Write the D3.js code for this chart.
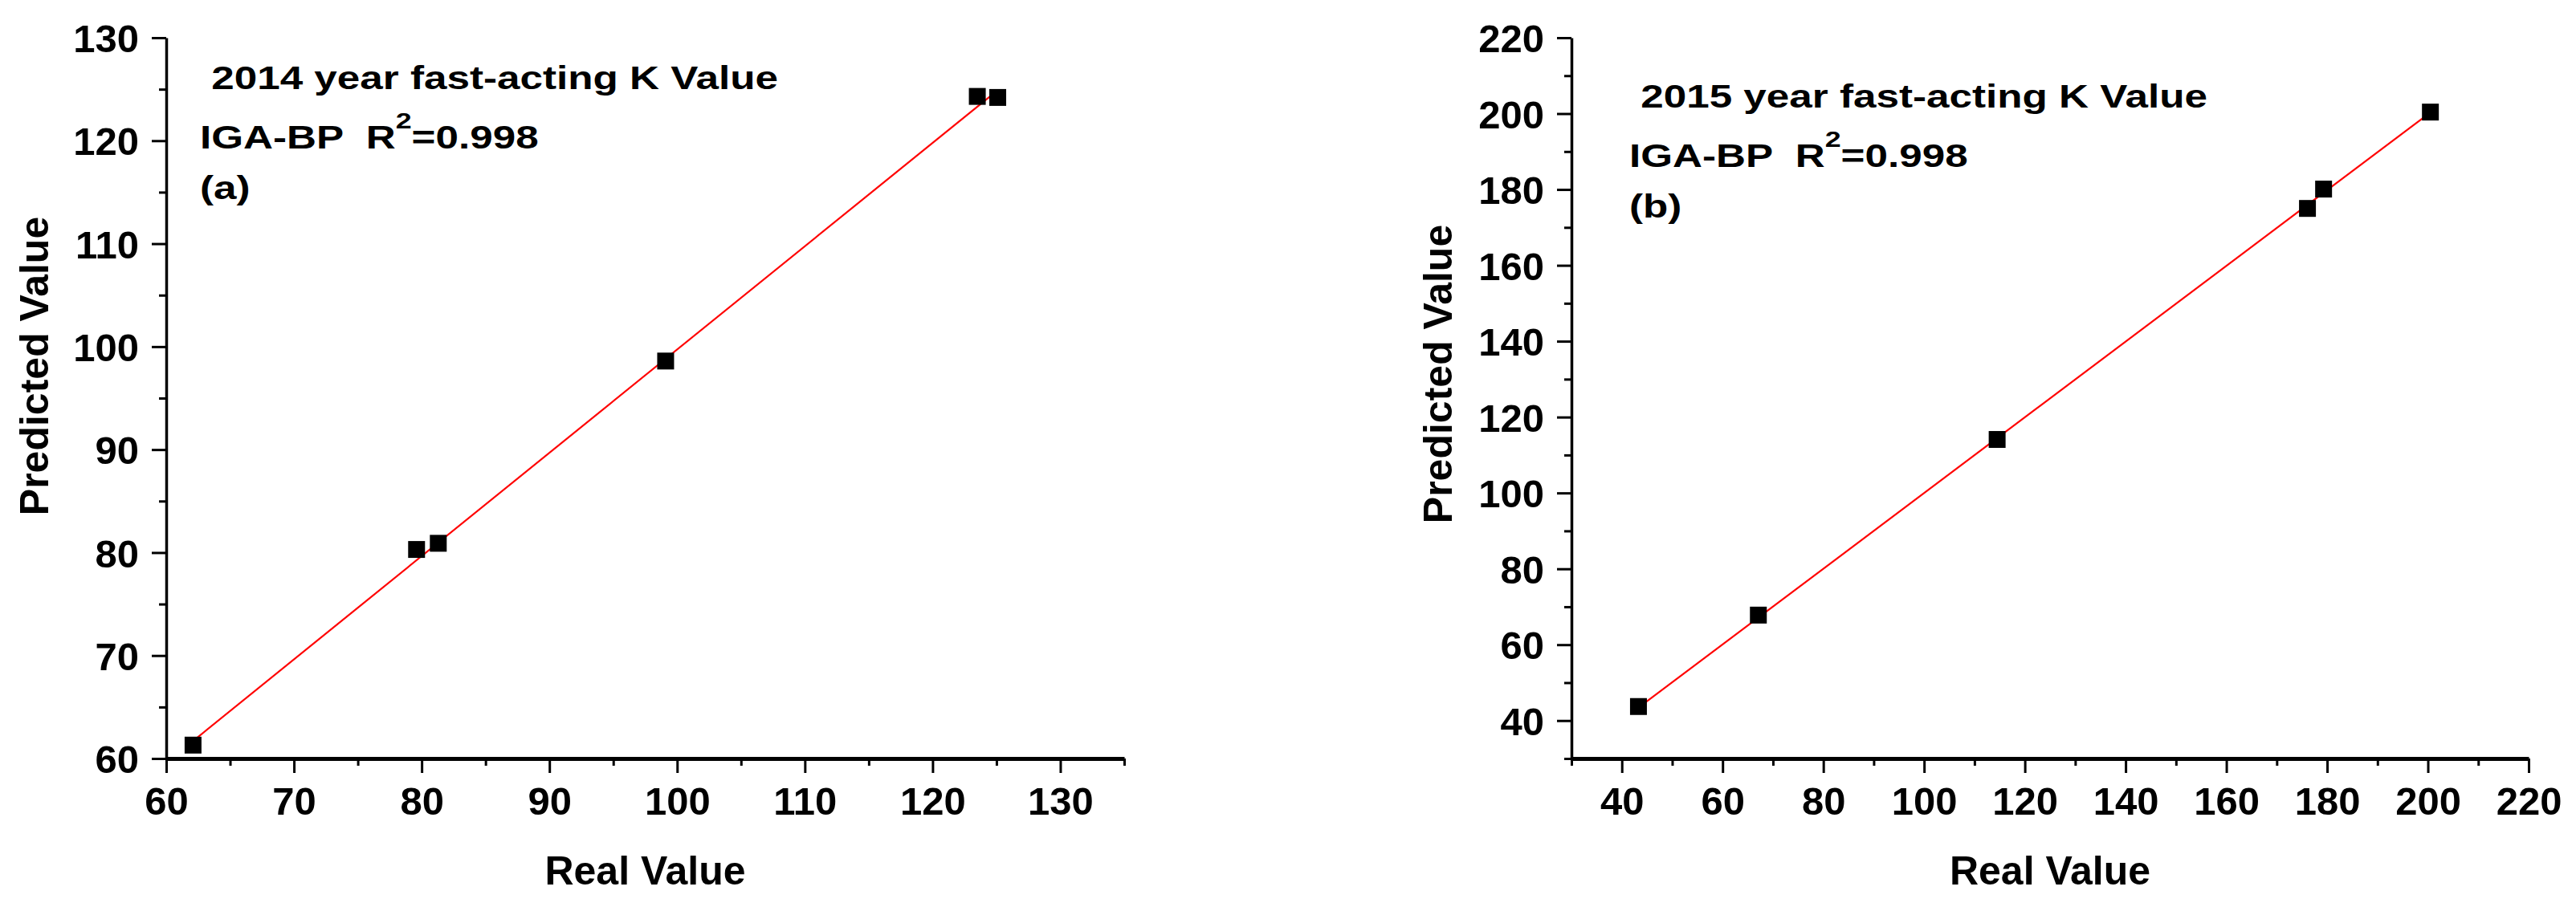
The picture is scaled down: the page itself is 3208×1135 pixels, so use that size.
<!DOCTYPE html>
<html>
<head>
<meta charset="utf-8">
<script src="https://cdn.jsdelivr.net/npm/d3@7"></script>
<style>
  html, body { margin: 0; padding: 0; background: #fff; }
  svg { display: block; font-family: "Liberation Sans", Arial, sans-serif; font-weight: bold; }
  .ann text { white-space: pre; }
</style>
</head>
<body>
<div id="chart"></div>
<script>
// Two real-vs-predicted scatter panels, fast-acting K, 2014 (a) and 2015 (b).

// panel (a) 2014
const realA = [62.1, 79.6, 81.3, 99.1, 123.5, 125.1];
const predA = [61.3, 80.3, 80.9, 98.6, 124.3, 124.2];
const fitA = [[62.1, 61.7], [125.1, 124.9]];
const xMajorA = [60, 70, 80, 90, 100, 110, 120, 130];
const xMinorA = [65, 75, 85, 95, 105, 115, 125, 135];
const yMajorA = [60, 70, 80, 90, 100, 110, 120, 130];
const yMinorA = [65, 75, 85, 95, 105, 115, 125];

// panel (b) 2015
const realB = [43.3, 67.1, 114.5, 176.1, 179.3, 200.5];
const predB = [43.7, 67.8, 114.1, 175.0, 180.1, 200.4];
const fitB = [[43.3, 43.4], [200.6, 200.4]];
const xMajorB = [40, 60, 80, 100, 120, 140, 160, 180, 200, 220];
const xMinorB = [30, 50, 70, 90, 110, 130, 150, 170, 190, 210];
const yMajorB = [40, 60, 80, 100, 120, 140, 160, 180, 200, 220];
const yMinorB = [30, 50, 70, 90, 110, 130, 150, 170, 190, 210];

const titleA = ' 2014 year fast-acting K Value';
const titleB = ' 2015 year fast-acting K Value';
const modelLabel = 'IGA-BP  R';
const r2Text = '=0.998';

const W = 3208, H = 1135;

const svg = d3.select('#chart').append('svg')
  .attr('width', W).attr('height', H)
  .attr('viewBox', `0 0 ${W} ${H}`);

function panel(cfg) {
  const x = d3.scaleLinear().domain(cfg.xDomain).range([cfg.left, cfg.right]);
  const y = d3.scaleLinear().domain(cfg.yDomain).range([cfg.bottom, cfg.top]);
  const g = svg.append('g');

  // minor ticks first, then major axes on top
  g.append('g')
    .attr('transform', `translate(0,${cfg.bottom})`)
    .call(d3.axisBottom(x).tickValues(cfg.xMinor).tickSize(9).tickSizeOuter(0).tickFormat(''))
    .call(a => a.select('.domain').remove());
  g.append('g')
    .attr('transform', `translate(${cfg.left},0)`)
    .call(d3.axisLeft(y).tickValues(cfg.yMinor).tickSize(9).tickSizeOuter(0).tickFormat(''))
    .call(a => a.select('.domain').remove());

  const xa = g.append('g')
    .attr('transform', `translate(0,${cfg.bottom})`)
    .call(d3.axisBottom(x).tickValues(cfg.xMajor).tickSize(18).tickSizeOuter(0));
  xa.select('.domain').attr('stroke-width', 5);
  xa.selectAll('text')
    .attr('y', 70).attr('dy', null)
    .attr('font-size', 49).attr('fill', '#000');

  const ya = g.append('g')
    .attr('transform', `translate(${cfg.left},0)`)
    .call(d3.axisLeft(y).tickValues(cfg.yMajor).tickSize(18).tickSizeOuter(0));
  ya.select('.domain').attr('stroke-width', 3.5);
  ya.selectAll('text')
    .attr('x', -34).attr('dy', '0.36em')
    .attr('font-size', 49).attr('fill', '#000');

  g.selectAll('.tick line').attr('stroke', '#000').attr('stroke-width', 3);
  g.selectAll('.domain').attr('stroke', '#000');
  g.selectAll('g').attr('font-family', null).attr('font-size', null);

  // fitted line
  g.append('path')
    .datum(cfg.fit)
    .attr('d', d3.line().x(d => x(d[0])).y(d => y(d[1])))
    .attr('fill', 'none').attr('stroke', '#ff0000').attr('stroke-width', 2.2);

  // points
  const s = 21;
  g.selectAll('rect.pt')
    .data(cfg.real.map((v, i) => [v, cfg.pred[i]]))
    .join('rect')
    .attr('class', 'pt')
    .attr('x', d => x(d[0]) - s / 2).attr('y', d => y(d[1]) - s / 2)
    .attr('width', s).attr('height', s)
    .attr('fill', '#000');

  // axis titles
  g.append('text')
    .attr('x', (cfg.left + cfg.right) / 2).attr('y', 1102)
    .attr('text-anchor', 'middle').attr('font-size', 50)
    .text('Real Value');
  g.append('text')
    .attr('transform', `translate(${cfg.yTitleX},${cfg.yTitleY}) rotate(-90)`)
    .attr('text-anchor', 'middle').attr('font-size', 50)
    .text('Predicted Value');

  // annotation block, glyphs are stretched wide in the source
  const ann = g.append('g')
    .attr('class', 'ann')
    .attr('transform', `translate(${cfg.annX},0) scale(1.28,1)`)
    .attr('font-size', 40);
  ann.append('text').attr('x', 0).attr('y', cfg.annY[0]).text(cfg.title);
  const r = ann.append('text').attr('x', 0).attr('y', cfg.annY[1]);
  r.append('tspan').text(modelLabel);
  r.append('tspan').attr('font-size', 28).attr('dy', -25).text('2');
  r.append('tspan').attr('dy', 25).text(r2Text);
  ann.append('text').attr('x', 0).attr('y', cfg.annY[2]).text(cfg.tag);
}

panel({
  xDomain: [60, 135], yDomain: [60, 130],
  left: 207, right: 1400, top: 47, bottom: 945,
  xMajor: xMajorA, xMinor: xMinorA, yMajor: yMajorA, yMinor: yMinorA,
  real: realA, pred: predA, fit: fitA,
  yTitleX: 60, yTitleY: 456,
  annX: 249, annY: [111, 185, 248],
  title: titleA, tag: '(a)'
});

panel({
  xDomain: [30, 220], yDomain: [30, 220],
  left: 1957, right: 3149, top: 47, bottom: 945,
  xMajor: xMajorB, xMinor: xMinorB, yMajor: yMajorB, yMinor: yMinorB,
  real: realB, pred: predB, fit: fitB,
  yTitleX: 1808, yTitleY: 466,
  annX: 2029, annY: [134, 208, 271],
  title: titleB, tag: '(b)'
});
</script>
</body>
</html>
